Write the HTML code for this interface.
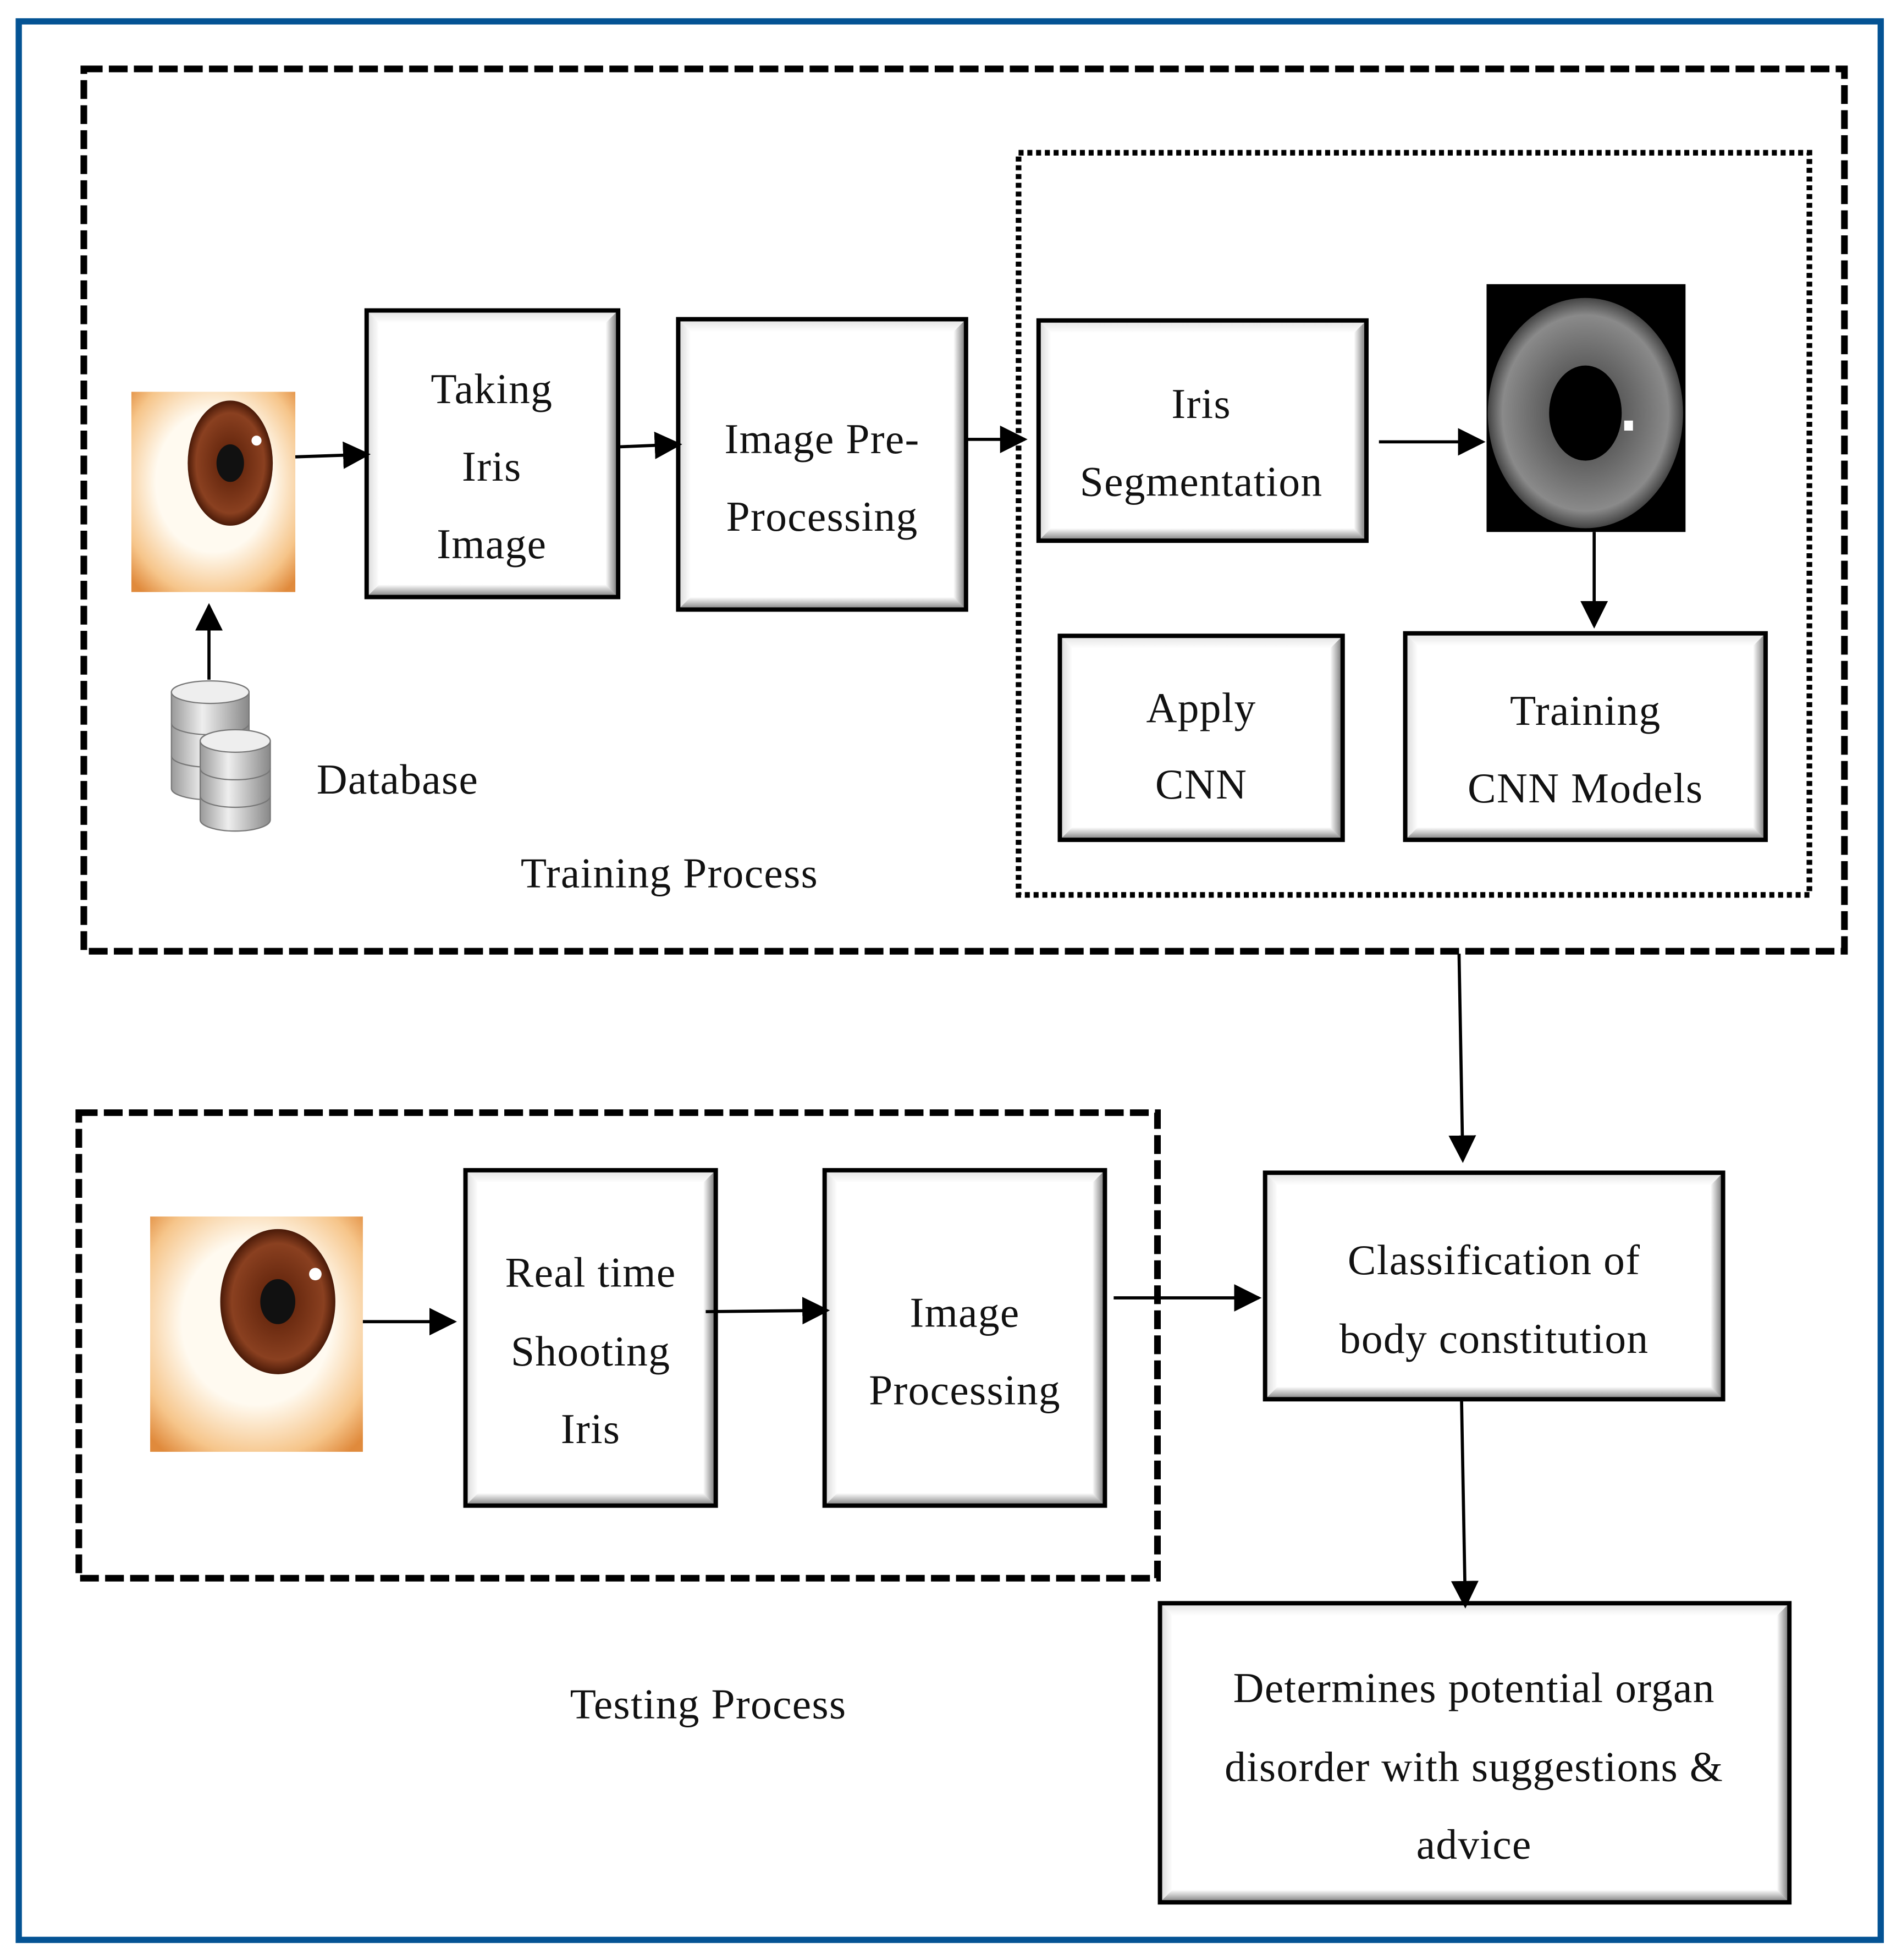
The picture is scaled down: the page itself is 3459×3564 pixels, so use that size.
<!DOCTYPE html>
<html><head><meta charset="utf-8"><style>
html,body{margin:0;padding:0;background:#fff}
svg{display:block}
text{font-family:"Liberation Serif",serif;fill:#111;letter-spacing:0.6px}
</style></head><body>
<svg width="3459" height="3564" viewBox="0 0 1520 1566" xmlns="http://www.w3.org/2000/svg">
<defs>
<linearGradient id="gb" x1="0" y1="0" x2="0" y2="1"><stop offset="0" stop-color="#fff"/><stop offset="1" stop-color="#7a7a7a"/></linearGradient>
<linearGradient id="gr" x1="0" y1="0" x2="1" y2="0"><stop offset="0" stop-color="#fff"/><stop offset="1" stop-color="#6e6e6e"/></linearGradient>
<linearGradient id="gl" x1="1" y1="0" x2="0" y2="0"><stop offset="0" stop-color="#fff"/><stop offset="1" stop-color="#d8d8d8"/></linearGradient>
<linearGradient id="gt" x1="0" y1="1" x2="0" y2="0"><stop offset="0" stop-color="#fff"/><stop offset="1" stop-color="#e2e2e2"/></linearGradient>
<radialGradient id="skin" cx="0.5" cy="0.45" r="0.7"><stop offset="0.5" stop-color="#fffaf0"/><stop offset="0.82" stop-color="#f6c58a"/><stop offset="1" stop-color="#e08a3c"/></radialGradient>
<radialGradient id="iris" cx="0.5" cy="0.5" r="0.5"><stop offset="0.3" stop-color="#6a2a10"/><stop offset="0.8" stop-color="#8a4020"/><stop offset="1" stop-color="#4a1a08"/></radialGradient>
<radialGradient id="giris" cx="0.5" cy="0.5" r="0.5"><stop offset="0.3" stop-color="#555"/><stop offset="0.85" stop-color="#8a8a8a"/><stop offset="1" stop-color="#444"/></radialGradient>
<linearGradient id="cyl" x1="0" y1="0" x2="1" y2="0"><stop offset="0" stop-color="#9a9a9a"/><stop offset="0.4" stop-color="#eee"/><stop offset="1" stop-color="#888"/></linearGradient>
<marker id="ah2" viewBox="0 0 10 10" markerWidth="22" markerHeight="22" refX="9" refY="5" orient="auto" markerUnits="userSpaceOnUse"><path d="M0,0 L10,5 L0,10 Z" fill="#000"/></marker>
</defs>

<rect x="15" y="17" width="1488" height="1533" fill="none" stroke="#045394" stroke-width="5"/>

<rect x="67" y="55" width="1407" height="705" fill="none" stroke="#000" stroke-width="5.3" stroke-dasharray="15 5"/>
<rect x="814" y="122" width="632" height="593" fill="none" stroke="#000" stroke-width="4.5" stroke-dasharray="4 3"/>
<rect x="63" y="889" width="862" height="372" fill="none" stroke="#000" stroke-width="5.3" stroke-dasharray="15 5"/>

<g stroke="none">
<rect x="293" y="248" width="201" height="229" fill="#fff"/>
<polygon points="293,248 303,258 303,467 293,477" fill="url(#gl)"/>
<polygon points="293,248 494,248 484,258 303,258" fill="url(#gt)"/>
<polygon points="494,248 494,477 484,467 484,258" fill="url(#gr)"/>
<polygon points="293,477 494,477 484,467 303,467" fill="url(#gb)"/>
<rect x="542" y="255" width="230" height="232" fill="#fff"/>
<polygon points="542,255 552,265 552,477 542,487" fill="url(#gl)"/>
<polygon points="542,255 772,255 762,265 552,265" fill="url(#gt)"/>
<polygon points="772,255 772,487 762,477 762,265" fill="url(#gr)"/>
<polygon points="542,487 772,487 762,477 552,477" fill="url(#gb)"/>
<rect x="830" y="256" width="262" height="176" fill="#fff"/>
<polygon points="830,256 840,266 840,422 830,432" fill="url(#gl)"/>
<polygon points="830,256 1092,256 1082,266 840,266" fill="url(#gt)"/>
<polygon points="1092,256 1092,432 1082,422 1082,266" fill="url(#gr)"/>
<polygon points="830,432 1092,432 1082,422 840,422" fill="url(#gb)"/>
<rect x="847" y="508" width="226" height="163" fill="#fff"/>
<polygon points="847,508 857,518 857,661 847,671" fill="url(#gl)"/>
<polygon points="847,508 1073,508 1063,518 857,518" fill="url(#gt)"/>
<polygon points="1073,508 1073,671 1063,661 1063,518" fill="url(#gr)"/>
<polygon points="847,671 1073,671 1063,661 857,661" fill="url(#gb)"/>
<rect x="1123" y="506" width="288" height="165" fill="#fff"/>
<polygon points="1123,506 1133,516 1133,661 1123,671" fill="url(#gl)"/>
<polygon points="1123,506 1411,506 1401,516 1133,516" fill="url(#gt)"/>
<polygon points="1411,506 1411,671 1401,661 1401,516" fill="url(#gr)"/>
<polygon points="1123,671 1411,671 1401,661 1133,661" fill="url(#gb)"/>
<rect x="372" y="935" width="200" height="268" fill="#fff"/>
<polygon points="372,935 382,945 382,1193 372,1203" fill="url(#gl)"/>
<polygon points="372,935 572,935 562,945 382,945" fill="url(#gt)"/>
<polygon points="572,935 572,1203 562,1193 562,945" fill="url(#gr)"/>
<polygon points="372,1203 572,1203 562,1193 382,1193" fill="url(#gb)"/>
<rect x="659" y="935" width="224" height="268" fill="#fff"/>
<polygon points="659,935 669,945 669,1193 659,1203" fill="url(#gl)"/>
<polygon points="659,935 883,935 873,945 669,945" fill="url(#gt)"/>
<polygon points="883,935 883,1203 873,1193 873,945" fill="url(#gr)"/>
<polygon points="659,1203 883,1203 873,1193 669,1193" fill="url(#gb)"/>
<rect x="1011" y="937" width="366" height="181" fill="#fff"/>
<polygon points="1011,937 1021,947 1021,1108 1011,1118" fill="url(#gl)"/>
<polygon points="1011,937 1377,937 1367,947 1021,947" fill="url(#gt)"/>
<polygon points="1377,937 1377,1118 1367,1108 1367,947" fill="url(#gr)"/>
<polygon points="1011,1118 1377,1118 1367,1108 1021,1108" fill="url(#gb)"/>
<rect x="927" y="1281" width="503" height="239" fill="#fff"/>
<polygon points="927,1281 937,1291 937,1510 927,1520" fill="url(#gl)"/>
<polygon points="927,1281 1430,1281 1420,1291 937,1291" fill="url(#gt)"/>
<polygon points="1430,1281 1430,1520 1420,1510 1420,1291" fill="url(#gr)"/>
<polygon points="927,1520 1430,1520 1420,1510 937,1510" fill="url(#gb)"/>
</g>
<g fill="none" stroke="#000" stroke-width="3.5">
<rect x="293" y="248" width="201" height="229"/>
<rect x="542" y="255" width="230" height="232"/>
<rect x="830" y="256" width="262" height="176"/>
<rect x="847" y="508" width="226" height="163"/>
<rect x="1123" y="506" width="288" height="165"/>
<rect x="372" y="935" width="200" height="268"/>
<rect x="659" y="935" width="224" height="268"/>
<rect x="1011" y="937" width="366" height="181"/>
<rect x="927" y="1281" width="503" height="239"/>
</g>

<rect x="105" y="313" width="131" height="160" fill="url(#skin)"/>
<ellipse cx="184" cy="370" rx="34" ry="50" fill="url(#iris)"/>
<ellipse cx="184" cy="370" rx="11" ry="15" fill="#111"/>
<circle cx="205" cy="352" r="4" fill="#fff"/>
<rect x="120" y="972" width="170" height="188" fill="url(#skin)"/>
<ellipse cx="222" cy="1040" rx="46" ry="58" fill="url(#iris)"/>
<ellipse cx="222" cy="1040" rx="14" ry="18" fill="#111"/>
<circle cx="252" cy="1018" r="5" fill="#fff"/>
<rect x="1188" y="227" width="159" height="198" fill="#000"/>
<ellipse cx="1267" cy="330" rx="78" ry="92" fill="url(#giris)"/>
<ellipse cx="1267" cy="330" rx="29" ry="38" fill="#000"/>
<rect x="1298" y="336" width="7" height="8" fill="#fff"/>

<g stroke="#777" stroke-width="1">
<path d="M137,553 L137,630 A31,9 0 0 0 199,630 L199,553 Z" fill="url(#cyl)"/>
<ellipse cx="168" cy="553" rx="31" ry="9" fill="#eee"/>
<path d="M137,578 A31,9 0 0 0 199,578 M137,604 A31,9 0 0 0 199,604" fill="none"/>
<path d="M160,592 L160,655 A28,9 0 0 0 216,655 L216,592 Z" fill="url(#cyl)"/>
<ellipse cx="188" cy="592" rx="28" ry="9" fill="#eee"/>
<path d="M160,614 A28,9 0 0 0 216,614 M160,636 A28,9 0 0 0 216,636" fill="none"/>
</g>

<g stroke="#000" stroke-width="2.5" fill="none" marker-end="url(#ah2)">
<line x1="236" y1="365" x2="294" y2="363"/>
<line x1="494" y1="357" x2="543" y2="355"/>
<line x1="772" y1="351" x2="819" y2="351"/>
<line x1="1102" y1="353" x2="1185" y2="353"/>
<line x1="1274" y1="425" x2="1274" y2="500"/>
<line x1="167" y1="543" x2="167" y2="484"/>
<line x1="1166" y1="762" x2="1169" y2="927"/>
<line x1="290" y1="1056" x2="363" y2="1056"/>
<line x1="564" y1="1048" x2="661" y2="1047"/>
<line x1="890" y1="1037" x2="1006" y2="1037"/>
<line x1="1168" y1="1118" x2="1171" y2="1283"/>
</g>

<g font-size="34" text-anchor="middle">
<text x="393" y="322">Taking</text>
<text x="393" y="384">Iris</text>
<text x="393" y="446">Image</text>
<text x="657" y="362">Image Pre-</text>
<text x="657" y="424">Processing</text>
<text x="960" y="334">Iris</text>
<text x="960" y="396">Segmentation</text>
<text x="960" y="577">Apply</text>
<text x="960" y="638">CNN</text>
<text x="1267" y="579">Training</text>
<text x="1267" y="641">CNN Models</text>
<text x="535" y="709">Training Process</text>
<text x="472" y="1028">Real time</text>
<text x="472" y="1091">Shooting</text>
<text x="472" y="1153">Iris</text>
<text x="771" y="1060">Image</text>
<text x="771" y="1122">Processing</text>
<text x="1194" y="1018">Classification of</text>
<text x="1194" y="1081">body constitution</text>
<text x="566" y="1373">Testing Process</text>
<text x="1178" y="1360">Determines potential organ</text>
<text x="1178" y="1423">disorder with suggestions &amp;</text>
<text x="1178" y="1485">advice</text>
</g>
<text x="253" y="634" font-size="34">Database</text>
</svg>
</body></html>
